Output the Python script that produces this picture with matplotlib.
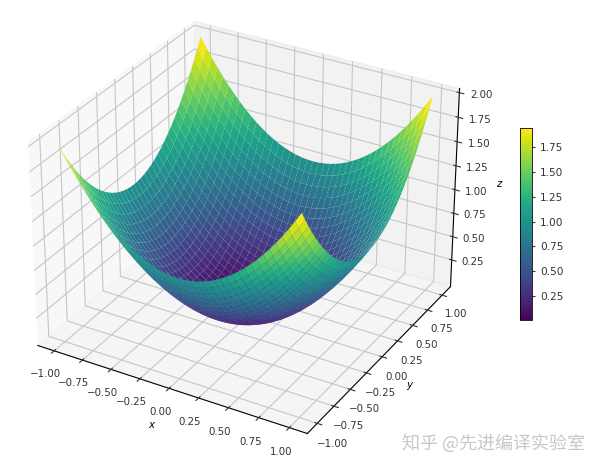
import matplotlib
matplotlib.use('Agg')
import matplotlib.pyplot as plt
import numpy as np

plt.rcParams['font.family'] = ['DejaVu Sans', 'Noto Sans CJK SC']
plt.rcParams['grid.color'] = '#c6c6c6'

x_vals = [-1.00, -0.95, -0.90, -0.85, -0.80, -0.75, -0.70, -0.65, -0.60, -0.55, -0.50,
          -0.45, -0.40, -0.35, -0.30, -0.25, -0.20, -0.15, -0.10, -0.05, 0.00,
          0.05, 0.10, 0.15, 0.20, 0.25, 0.30, 0.35, 0.40, 0.45, 0.50,
          0.55, 0.60, 0.65, 0.70, 0.75, 0.80, 0.85, 0.90, 0.95, 1.00]
y_vals = list(x_vals)

# one quadrant of the bowl, x and y from -1 to 0, the rest is mirrored
z_quadrant = [
    [2.000, 1.903, 1.810, 1.723, 1.640, 1.563, 1.490, 1.423, 1.360, 1.303, 1.250, 1.203, 1.160, 1.123, 1.090, 1.063, 1.040, 1.023, 1.010, 1.003, 1.000],
    [1.903, 1.805, 1.713, 1.625, 1.543, 1.465, 1.393, 1.325, 1.263, 1.205, 1.153, 1.105, 1.063, 1.025, 0.993, 0.965, 0.943, 0.925, 0.913, 0.905, 0.903],
    [1.810, 1.713, 1.620, 1.533, 1.450, 1.373, 1.300, 1.233, 1.170, 1.113, 1.060, 1.013, 0.970, 0.933, 0.900, 0.873, 0.850, 0.833, 0.820, 0.813, 0.810],
    [1.723, 1.625, 1.533, 1.445, 1.363, 1.285, 1.213, 1.145, 1.083, 1.025, 0.973, 0.925, 0.883, 0.845, 0.813, 0.785, 0.763, 0.745, 0.733, 0.725, 0.723],
    [1.640, 1.543, 1.450, 1.363, 1.280, 1.203, 1.130, 1.063, 1.000, 0.943, 0.890, 0.843, 0.800, 0.763, 0.730, 0.703, 0.680, 0.663, 0.650, 0.643, 0.640],
    [1.563, 1.465, 1.373, 1.285, 1.203, 1.125, 1.053, 0.985, 0.923, 0.865, 0.813, 0.765, 0.723, 0.685, 0.653, 0.625, 0.603, 0.585, 0.573, 0.565, 0.563],
    [1.490, 1.393, 1.300, 1.213, 1.130, 1.053, 0.980, 0.913, 0.850, 0.793, 0.740, 0.693, 0.650, 0.613, 0.580, 0.553, 0.530, 0.513, 0.500, 0.493, 0.490],
    [1.423, 1.325, 1.233, 1.145, 1.063, 0.985, 0.913, 0.845, 0.783, 0.725, 0.673, 0.625, 0.583, 0.545, 0.513, 0.485, 0.463, 0.445, 0.433, 0.425, 0.423],
    [1.360, 1.263, 1.170, 1.083, 1.000, 0.923, 0.850, 0.783, 0.720, 0.663, 0.610, 0.563, 0.520, 0.483, 0.450, 0.423, 0.400, 0.383, 0.370, 0.363, 0.360],
    [1.303, 1.205, 1.113, 1.025, 0.943, 0.865, 0.793, 0.725, 0.663, 0.605, 0.553, 0.505, 0.463, 0.425, 0.393, 0.365, 0.343, 0.325, 0.313, 0.305, 0.303],
    [1.250, 1.153, 1.060, 0.973, 0.890, 0.813, 0.740, 0.673, 0.610, 0.553, 0.500, 0.453, 0.410, 0.373, 0.340, 0.313, 0.290, 0.273, 0.260, 0.253, 0.250],
    [1.203, 1.105, 1.013, 0.925, 0.843, 0.765, 0.693, 0.625, 0.563, 0.505, 0.453, 0.405, 0.363, 0.325, 0.293, 0.265, 0.243, 0.225, 0.213, 0.205, 0.203],
    [1.160, 1.063, 0.970, 0.883, 0.800, 0.723, 0.650, 0.583, 0.520, 0.463, 0.410, 0.363, 0.320, 0.283, 0.250, 0.223, 0.200, 0.183, 0.170, 0.163, 0.160],
    [1.123, 1.025, 0.933, 0.845, 0.763, 0.685, 0.613, 0.545, 0.483, 0.425, 0.373, 0.325, 0.283, 0.245, 0.213, 0.185, 0.163, 0.145, 0.133, 0.125, 0.123],
    [1.090, 0.993, 0.900, 0.813, 0.730, 0.653, 0.580, 0.513, 0.450, 0.393, 0.340, 0.293, 0.250, 0.213, 0.180, 0.153, 0.130, 0.113, 0.100, 0.093, 0.090],
    [1.063, 0.965, 0.873, 0.785, 0.703, 0.625, 0.553, 0.485, 0.423, 0.365, 0.313, 0.265, 0.223, 0.185, 0.153, 0.125, 0.103, 0.085, 0.073, 0.065, 0.063],
    [1.040, 0.943, 0.850, 0.763, 0.680, 0.603, 0.530, 0.463, 0.400, 0.343, 0.290, 0.243, 0.200, 0.163, 0.130, 0.103, 0.080, 0.063, 0.050, 0.043, 0.040],
    [1.023, 0.925, 0.833, 0.745, 0.663, 0.585, 0.513, 0.445, 0.383, 0.325, 0.273, 0.225, 0.183, 0.145, 0.113, 0.085, 0.063, 0.045, 0.033, 0.025, 0.023],
    [1.010, 0.913, 0.820, 0.733, 0.650, 0.573, 0.500, 0.433, 0.370, 0.313, 0.260, 0.213, 0.170, 0.133, 0.100, 0.073, 0.050, 0.033, 0.020, 0.013, 0.010],
    [1.003, 0.905, 0.813, 0.725, 0.643, 0.565, 0.493, 0.425, 0.363, 0.305, 0.253, 0.205, 0.163, 0.125, 0.093, 0.065, 0.043, 0.025, 0.013, 0.005, 0.003],
    [1.000, 0.903, 0.810, 0.723, 0.640, 0.563, 0.490, 0.423, 0.360, 0.303, 0.250, 0.203, 0.160, 0.123, 0.090, 0.063, 0.040, 0.023, 0.010, 0.003, 0.000],
]

xy_ticks = [-1.00, -0.75, -0.50, -0.25, 0.00, 0.25, 0.50, 0.75, 1.00]
z_ticks = [0.25, 0.50, 0.75, 1.00, 1.25, 1.50, 1.75, 2.00]
cbar_ticks = [0.25, 0.50, 0.75, 1.00, 1.25, 1.50, 1.75]
watermark = '知乎 @先进编译实验室'

X, Y = np.meshgrid(x_vals, y_vals)
q = np.array(z_quadrant)
Z = np.vstack([q, q[-2::-1]])
Z = np.hstack([Z, Z[:, -2::-1]])

fig = plt.figure(figsize=(6, 4.68), dpi=100)
ax = fig.add_axes([-0.0275, 0.009, 0.86, 1.025], projection='3d')

surf = ax.plot_surface(X, Y, Z, rstride=1, cstride=1, cmap='viridis',
                       vmin=0.01, vmax=1.94, linewidth=0)

ax.set_xticks(xy_ticks)
ax.set_yticks(xy_ticks)
ax.set_zticks(z_ticks)
ax.tick_params(labelsize=7.4, pad=1.5, colors='#333333')
ax.set_xlabel('$x$', fontsize=7.4, labelpad=-2)
ax.set_ylabel('$y$', fontsize=7.4, labelpad=-2)
ax.set_zlabel('$z$', fontsize=7.4, labelpad=-1)

cax = fig.add_axes([520 / 600, 1 - 320 / 468, 12 / 600, 192 / 468])
cb = fig.colorbar(surf, cax=cax, ticks=cbar_ticks)
cb.ax.tick_params(labelsize=7.6, length=2.5, colors='#333333')
cb.outline.set_linewidth(0.6)

fig.text(494 / 600, 1 - 443 / 468, watermark, fontsize=13, color='#c8c8c8',
         ha='center', va='center',
         family=['Noto Sans CJK SC', 'DejaVu Sans'])

fig.savefig('out.png', dpi=100)
